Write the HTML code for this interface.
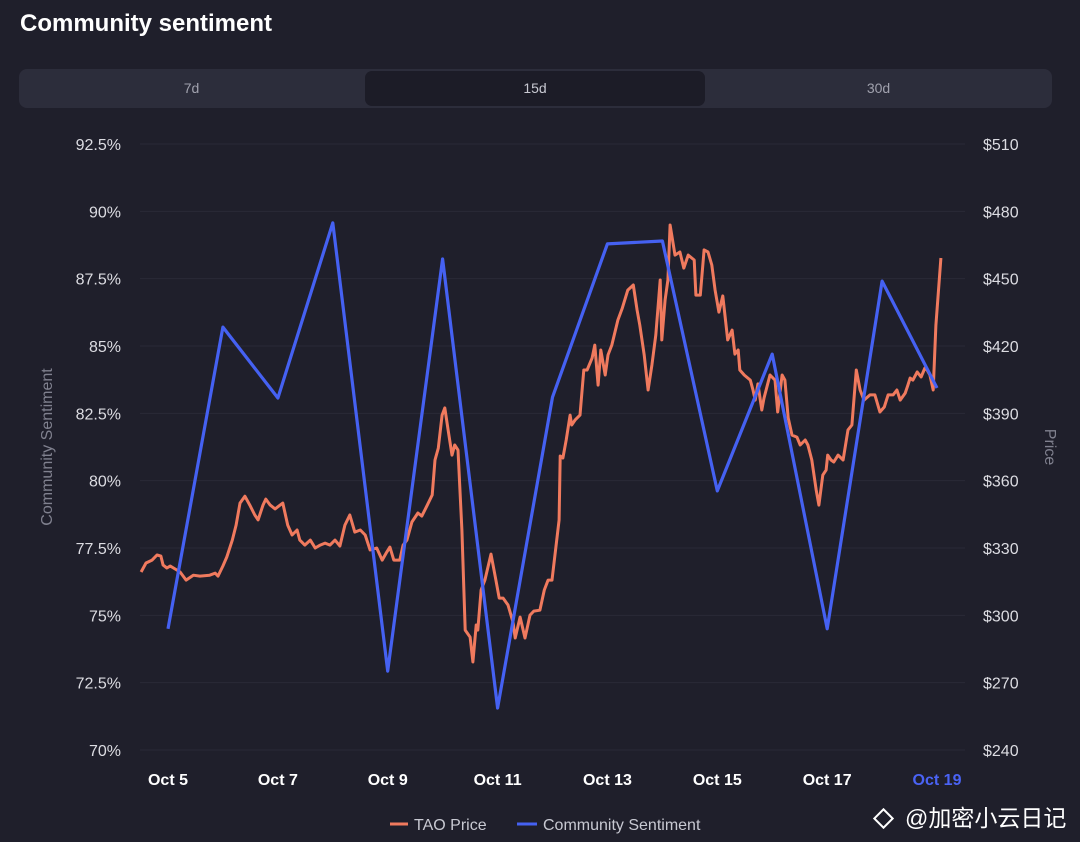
<!DOCTYPE html>
<html><head><meta charset="utf-8">
<style>
body{margin:0;width:1080px;height:842px;background:#1f1f2b;overflow:hidden;font-family:"Liberation Sans","Noto Sans CJK SC",sans-serif;}
.title{position:absolute;left:20px;top:10px;font-size:24px;font-weight:bold;color:#fff;}
.tabs{position:absolute;left:19px;top:69px;width:1033px;height:39px;background:#2c2d3b;border-radius:8px;}
.tab{position:absolute;top:2px;height:35px;line-height:35px;text-align:center;color:#a0a1ad;font-size:14px;border-radius:7px;}
.tab.sel{background:#1c1c27;color:#c8c9d2;}
svg{position:absolute;left:0;top:0;}
</style></head><body>
<div class="title">Community sentiment</div>
<div class="tabs">
<div class="tab" style="left:0;width:345px">7d</div>
<div class="tab sel" style="left:346px;width:340px">15d</div>
<div class="tab" style="left:688px;width:343px">30d</div>
</div>
<svg id="chart" width="1080" height="842"></svg>
<script>
const leftTicks=[70,72.5,75,77.5,80,82.5,85,87.5,90,92.5];
const leftTickLabels=["70%","72.5%","75%","77.5%","80%","82.5%","85%","87.5%","90%","92.5%"];
const rightTicks=[240,270,300,330,360,390,420,450,480,510];
const rightTickLabels=["$240","$270","$300","$330","$360","$390","$420","$450","$480","$510"];
const xTickDays=[0,2,4,6,8,10,12,14];
const xTickLabels=["Oct 5","Oct 7","Oct 9","Oct 11","Oct 13","Oct 15","Oct 17","Oct 19"];
const sentimentDays=[0,1,2,3,4,5,6,7,8,9,10,11,12,13,14];
const sentimentValues=[74.5,85.7,83.07,89.57,72.93,88.23,71.56,83.1,88.79,88.9,79.62,84.7,74.5,87.41,83.44];
const priceDays=[-0.49,-0.40,-0.29,-0.20,-0.13,-0.09,-0.02,0.04,0.22,0.33,0.46,0.58,0.76,0.86,0.91,1.00,1.07,1.17,1.24,1.31,1.40,1.49,1.58,1.64,1.73,1.78,1.86,1.95,2.04,2.09,2.18,2.26,2.35,2.40,2.49,2.59,2.68,2.77,2.86,2.95,3.04,3.13,3.22,3.31,3.40,3.50,3.59,3.68,3.80,3.90,3.97,4.04,4.11,4.22,4.28,4.35,4.44,4.55,4.62,4.72,4.81,4.86,4.92,4.99,5.04,5.10,5.17,5.22,5.28,5.35,5.41,5.50,5.55,5.61,5.64,5.70,5.77,5.88,5.97,6.03,6.10,6.19,6.28,6.32,6.41,6.50,6.59,6.66,6.77,6.85,6.92,6.99,7.12,7.14,7.19,7.25,7.32,7.35,7.41,7.50,7.57,7.63,7.72,7.77,7.83,7.88,7.96,8.01,8.08,8.19,8.27,8.37,8.47,8.54,8.59,8.67,8.74,8.81,8.88,8.96,8.99,9.05,9.10,9.14,9.23,9.32,9.39,9.47,9.58,9.61,9.69,9.76,9.83,9.90,9.96,10.03,10.10,10.19,10.27,10.32,10.38,10.41,10.49,10.60,10.65,10.69,10.74,10.81,10.85,10.96,11.05,11.10,11.18,11.23,11.29,11.36,11.45,11.51,11.60,11.65,11.72,11.80,11.85,11.92,11.98,12.01,12.07,12.12,12.20,12.29,12.38,12.45,12.53,12.60,12.67,12.78,12.87,12.96,13.04,13.11,13.20,13.27,13.33,13.42,13.47,13.51,13.56,13.64,13.71,13.78,13.82,13.87,13.93,13.98,14.07];
const priceValues=[319.3,323.3,324.6,326.9,326.4,322.4,321.1,322.0,319.3,315.7,317.9,317.5,317.9,318.8,317.5,322.0,326.0,333.5,340.2,350.0,353.1,349.1,344.7,342.5,349.1,351.8,349.1,347.4,349.1,350.0,340.2,335.8,338.0,333.5,331.3,333.5,330.0,331.3,332.2,331.3,333.5,330.9,340.2,344.7,337.1,338.0,335.8,329.1,330.0,324.6,327.7,330.4,324.6,324.6,331.3,333.5,341.6,345.6,344.2,349.1,353.6,369.2,374.5,389.2,392.4,382.6,371.4,375.9,373.6,338.0,293.4,290.3,279.2,295.7,293.4,311.3,315.7,327.3,315.7,307.7,307.7,304.6,297.0,289.9,299.2,289.9,300.1,301.9,302.3,311.3,315.7,315.7,342.5,371.0,370.1,378.1,389.2,384.8,387.0,389.2,409.3,409.3,414.6,420.4,402.6,418.2,407.1,416.0,420.4,431.6,436.9,444.9,447.2,436.0,429.3,416.0,400.4,411.5,424.9,449.4,422.7,440.5,449.4,473.9,460.5,461.9,454.7,460.5,458.3,442.7,442.7,462.8,461.9,456.1,444.9,435.1,442.3,422.7,427.1,416.4,418.2,409.3,407.1,404.8,400.4,395.9,403.1,391.5,396.8,407.1,404.8,390.6,407.1,404.8,387.9,380.3,379.4,375.9,378.1,375.9,369.2,355.8,349.1,362.5,364.7,371.4,369.2,368.3,371.4,369.2,382.6,384.8,409.3,400.4,395.9,398.2,398.2,390.6,392.8,398.2,398.2,400.4,395.9,399.0,402.6,405.7,404.8,408.4,406.2,410.2,409.3,407.1,400.4,429.3,459.2];

const NS='http://www.w3.org/2000/svg';
const svg=document.getElementById('chart');
const X0=168,DX=54.93,YT=144,YB=750;
const xS=d=>X0+d*DX;
const yL=v=>YB-(v-70)/22.5*(YB-YT);
const yR=v=>YB-(v-240)/270*(YB-YT);
function mk(tag,attrs,text){const e=document.createElementNS(NS,tag);for(const k in attrs)e.setAttribute(k,attrs[k]);if(text!==undefined)e.textContent=text;svg.appendChild(e);return e;}

leftTicks.forEach((v,i)=>{
  const g=mk('line',{x1:140,x2:965,y1:yL(v),y2:yL(v),stroke:'#33344290','stroke-width':1});
  
  
  const t=mk('text',{x:121,y:yL(v)+6,'text-anchor':'end','font-size':16,fill:'#dcdce2'},leftTickLabels[i]);
  
  
});
rightTicks.forEach((v,i)=>{
  const t=mk('text',{x:983,y:yR(v)+6,'font-size':16,fill:'#dcdce2'},rightTickLabels[i]);
  
  
});
xTickDays.forEach((d,i)=>{
  const t=mk('text',{x:xS(d),y:785,'text-anchor':'middle','font-size':16,'font-weight':'bold',fill:i==xTickDays.length-1?'#4a63f5':'#ffffff'},xTickLabels[i]);
  
  
});
let yt=mk('text',{x:0,y:0,transform:'translate(52,447) rotate(-90)','text-anchor':'middle','font-size':16,fill:'#80818f'},'Community Sentiment');


let yt2=mk('text',{x:0,y:0,transform:'translate(1045,447) rotate(90)','text-anchor':'middle','font-size':16,fill:'#80818f'},'Price');



const pp=priceDays.map((d,i)=>xS(d).toFixed(1)+','+yR(priceValues[i]).toFixed(1)).join(' ');
let pl=mk('polyline',{points:pp,fill:'none',stroke:'#f07a5e','stroke-width':3,'stroke-linejoin':'round'});


const sp=sentimentDays.map((d,i)=>xS(d).toFixed(1)+','+yL(sentimentValues[i]).toFixed(1)).join(' ');
let sl=mk('polyline',{points:sp,fill:'none',stroke:'#4561f2','stroke-width':3.2,'stroke-linejoin':'round'});



let l1=mk('line',{x1:390,x2:408,y1:824,y2:824,stroke:'#f07a5e','stroke-width':3});


let t1=mk('text',{x:414,y:830,'font-size':16,fill:'#c8c9d2'},'TAO Price');


let l2=mk('line',{x1:517,x2:537,y1:824,y2:824,stroke:'#4561f2','stroke-width':3});


let t2=mk('text',{x:543,y:830,'font-size':16,fill:'#c8c9d2'},'Community Sentiment');


let wm=mk('text',{x:905,y:826,'font-size':23,fill:'#ffffff'},'@加密小云日记');


let di=mk('rect',{x:877,y:812,width:13,height:13,fill:'none',stroke:'#ffffff','stroke-width':2,transform:'rotate(45 883.5 818.5)'});


</script>
</body></html>
